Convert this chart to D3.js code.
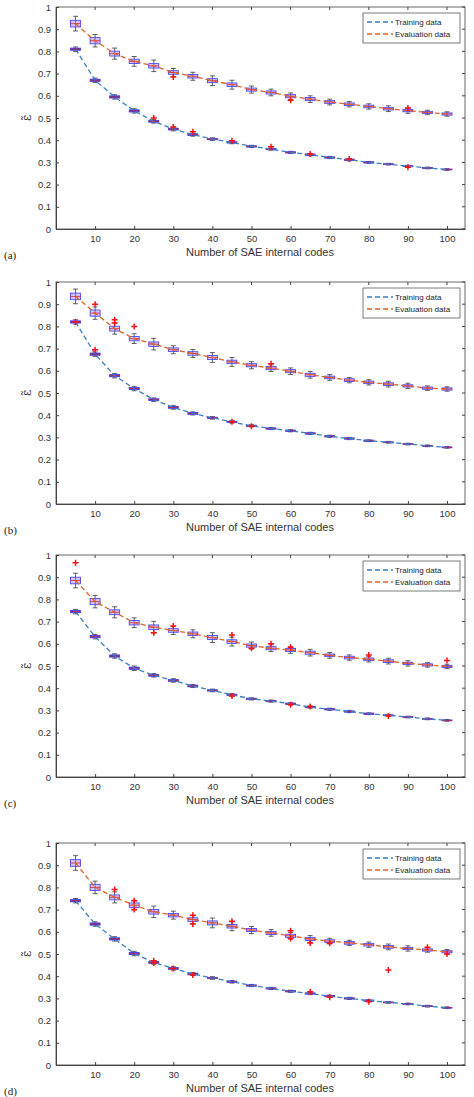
<!DOCTYPE html><html><head><meta charset="utf-8"><script src="https://cdn.jsdelivr.net/npm/d3@7"></script>
<style>body{margin:0;background:#fff}</style></head><body><svg id="c" width="474" height="1097"></svg><script>
const codes=[5,10,15,20,25,30,35,40,45,50,55,60,65,70,75,80,85,90,95,100];
const yTicks=[0,0.1,0.2,0.3,0.4,0.5,0.6,0.7,0.8,0.9,1];
const xTicks=[10,20,30,40,50,60,70,80,90,100];
const labels=["(a)","(b)","(c)","(d)"];
const evalA=[0.925,0.848,0.79,0.755,0.735,0.705,0.688,0.668,0.65,0.628,0.615,0.598,0.585,0.572,0.562,0.552,0.542,0.533,0.525,0.518];
const trainA=[0.81,0.67,0.595,0.532,0.485,0.45,0.425,0.405,0.39,0.372,0.36,0.345,0.335,0.322,0.312,0.3,0.292,0.283,0.275,0.268];
const evalB=[0.935,0.86,0.79,0.745,0.72,0.695,0.678,0.66,0.64,0.625,0.612,0.598,0.582,0.57,0.558,0.548,0.54,0.532,0.522,0.518];
const trainB=[0.82,0.675,0.578,0.52,0.47,0.435,0.408,0.388,0.37,0.352,0.34,0.33,0.318,0.305,0.295,0.285,0.278,0.27,0.262,0.255];
const evalC=[0.885,0.79,0.742,0.695,0.675,0.66,0.645,0.628,0.61,0.592,0.58,0.572,0.56,0.548,0.538,0.53,0.522,0.512,0.505,0.498];
const trainC=[0.745,0.632,0.545,0.49,0.458,0.435,0.41,0.39,0.37,0.352,0.342,0.33,0.315,0.305,0.295,0.285,0.278,0.27,0.262,0.255];
const evalD=[0.91,0.8,0.755,0.72,0.69,0.675,0.655,0.64,0.625,0.608,0.595,0.582,0.568,0.558,0.55,0.542,0.532,0.525,0.518,0.51];
const trainD=[0.74,0.635,0.568,0.502,0.462,0.435,0.41,0.392,0.375,0.358,0.345,0.332,0.322,0.31,0.3,0.29,0.282,0.275,0.265,0.258];
const evalIqr=[0.015,0.014,0.011,0.01,0.01,0.008,0.008,0.009,0.008,0.007,0.007,0.007,0.007,0.006,0.006,0.006,0.006,0.005,0.005,0.005];
const evalWhisk=[0.033,0.028,0.025,0.022,0.026,0.018,0.018,0.022,0.02,0.016,0.015,0.015,0.015,0.013,0.012,0.012,0.013,0.012,0.01,0.01];
const trainIqr=[0.005,0.005,0.005,0.005,0.004,0.004,0.004,0.003,0.003,0.003,0.003,0.003,0.003,0.003,0.003,0.003,0.002,0.002,0.002,0.002];
const trainWhisk=[0.01,0.01,0.01,0.01,0.008,0.008,0.007,0.006,0.006,0.005,0.005,0.005,0.005,0.005,0.005,0.004,0.004,0.004,0.004,0.004];
const outA=[[30,0.685],[25,0.5],[30,0.46],[35,0.438],[45,0.398],[55,0.37],[60,0.58],[65,0.338],[75,0.315],[90,0.545],[90,0.278]];
const outB=[[10,0.9],[15,0.83],[20,0.8],[10,0.695],[15,0.815],[45,0.37],[50,0.35],[55,0.632],[5,0.82]];
const outC=[[5,0.965],[25,0.65],[30,0.68],[45,0.64],[50,0.58],[55,0.6],[60,0.585],[80,0.55],[100,0.525],[45,0.365],[60,0.325],[65,0.318],[85,0.275]];
const outD=[[15,0.79],[20,0.74],[20,0.70],[35,0.675],[35,0.635],[45,0.648],[60,0.605],[60,0.57],[65,0.55],[70,0.548],[85,0.428],[95,0.53],[100,0.5],[25,0.47],[25,0.46],[30,0.435],[35,0.405],[65,0.33],[70,0.305],[80,0.285]];
const panels=[[evalA,trainA,outA,7],[evalB,trainB,outB,282],[evalC,trainC,outC,555],[evalD,trainD,outD,843]];
const svg=d3.select("#c");
const F="Liberation Sans, Arial, sans-serif";
const x=d3.scaleLinear().domain([0,104.6]).range([56,465]);
panels.forEach(([ev,tr,out,top],pi)=>{
  const y=d3.scaleLinear().domain([0,1]).range([top+222,top]);
  const g=svg.append("g");
  const ax=g.append("g").attr("transform",`translate(0,${top+222})`).call(d3.axisBottom(x).tickValues(xTicks).tickSize(-3).tickSizeOuter(0));
  const ay=g.append("g").attr("transform",`translate(56,0)`).call(d3.axisLeft(y).tickValues(yTicks).tickFormat(d=>d===0?"0":d===1?"1":d3.format(".1f")(d)).tickSize(-3).tickSizeOuter(0));
  [ax,ay].forEach(a=>{a.selectAll("text").attr("font-family",F).attr("font-size",9.5).attr("fill","#333");a.selectAll("line,path").attr("stroke","#444");});
  ax.selectAll("text").attr("dy","1.1em");ay.selectAll("text").attr("dx","-0.2em");
  g.append("rect").attr("x",56).attr("y",top).attr("width",409).attr("height",222).attr("fill","none").attr("stroke","#444").attr("stroke-width",0.8);
  xTicks.forEach(t=>g.append("line").attr("x1",x(t)).attr("x2",x(t)).attr("y1",top).attr("y2",top+3).attr("stroke","#444"));
  yTicks.forEach(t=>g.append("line").attr("x1",465).attr("x2",462).attr("y1",y(t)).attr("y2",y(t)).attr("stroke","#444"));
  const line=d3.line().x((d,i)=>x(codes[i])).y(d=>y(d));
  const series=[[tr,trainIqr,trainWhisk,"#3a7fc4","#4040c0"],[ev,evalIqr,evalWhisk,"#e0622a","rgba(160,130,235,0.45)"]];
  series.forEach(([m,iq,wh,lc,fill])=>{
    codes.forEach((c,i)=>{
      const cx=x(c),hw=5;
      g.append("line").attr("x1",cx).attr("x2",cx).attr("y1",y(m[i]-wh[i])).attr("y2",y(m[i]+wh[i])).attr("stroke","#222").attr("stroke-width",0.7);
      [m[i]-wh[i],m[i]+wh[i]].forEach(v=>g.append("line").attr("x1",cx-2.5).attr("x2",cx+2.5).attr("y1",y(v)).attr("y2",y(v)).attr("stroke","#222").attr("stroke-width",0.7));
      g.append("rect").attr("x",cx-hw).attr("width",2*hw).attr("y",y(m[i]+iq[i])).attr("height",y(m[i]-iq[i])-y(m[i]+iq[i])).attr("fill",fill).attr("stroke","#3a3aff").attr("stroke-width",0.8);
      g.append("line").attr("x1",cx-hw).attr("x2",cx+hw).attr("y1",y(m[i])).attr("y2",y(m[i])).attr("stroke","#e02020").attr("stroke-width",0.8);
    });
    g.append("path").attr("d",line(m)).attr("fill","none").attr("stroke",lc).attr("stroke-width",1.3).attr("stroke-dasharray","5,3");
  });
  out.forEach(([c,v])=>g.append("path").attr("transform",`translate(${x(c)},${y(v)})`).attr("d","M-3,0H3M0,-3V3").attr("stroke","#ff1010").attr("stroke-width",1.5));
  const lg=g.append("g").attr("transform",`translate(363,${top+6})`);
  lg.append("rect").attr("width",97).attr("height",30).attr("fill","#fff").attr("stroke","#444").attr("stroke-width",0.7);
  [["Training data","#3a7fc4"],["Evaluation data","#e0622a"]].forEach(([t,c],k)=>{
    lg.append("line").attr("x1",4).attr("x2",30).attr("y1",9+k*12).attr("y2",9+k*12).attr("stroke",c).attr("stroke-width",1.3).attr("stroke-dasharray","5,3");
    lg.append("text").attr("x",32).attr("y",9+k*12).attr("dy","0.35em").attr("font-size",8).attr("font-family",F).attr("fill","#222").text(t);
  });
  g.append("text").attr("x",260).attr("y",top+249).attr("text-anchor","middle").attr("font-size",11).attr("font-family",F).attr("fill","#333").text("Number of SAE internal codes");
  g.append("text").attr("x",4).attr("y",top+252).attr("font-size",11).attr("font-family","Liberation Serif, serif").attr("fill","#222").text(labels[pi]);
  g.append("text").attr("transform",`translate(27,${y(0.5)}) rotate(-90)`).attr("dy","0.35em").attr("text-anchor","middle").attr("font-size",12).attr("font-family","DejaVu Serif, serif").attr("fill","#333").text("ε̃");
});
</script></body></html>
